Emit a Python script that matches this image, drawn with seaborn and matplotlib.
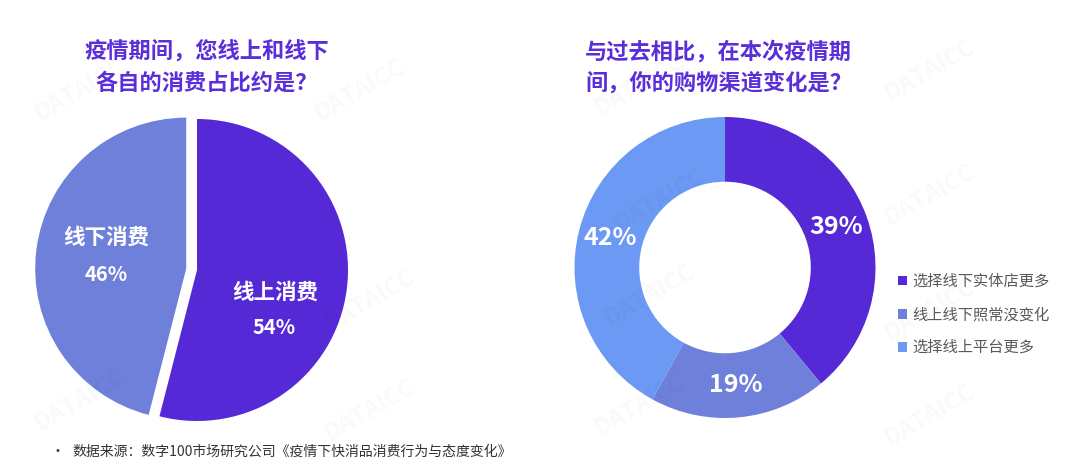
import matplotlib
matplotlib.use("Agg")
import matplotlib.pyplot as plt
import seaborn as sns
import numpy as np

# ---------------- data ----------------
left_title = ["疫情期间，您线上和线下", "各自的消费占比约是？"]
left_labels = ["线上消费", "线下消费"]
left_values = [54, 46]

right_title = ["与过去相比，在本次疫情期", "间，你的购物渠道变化是？"]
right_labels = ["选择线下实体店更多", "线上线下照常没变化", "选择线上平台更多"]
right_values = [39, 19, 42]

source_text = "数据来源：数字100市场研究公司《疫情下快消品消费行为与态度变化》"

# ---------------- style ----------------
sns.set_theme(style="white")
plt.rcParams["font.family"] = ["Noto Sans CJK SC", "DejaVu Sans"]

c_dark = "#5629D6"
c_mid = "#6E80D9"
c_light = "#6B99F3"
title_color = "#5A2ED8"
left_colors = sns.color_palette([c_dark, c_mid])
right_colors = sns.color_palette([c_dark, c_mid, c_light])

W, H = 1080, 471
LIM = 1.2
fig = plt.figure(figsize=(W / 100, H / 100), dpi=100)
fig.patch.set_facecolor("white")


def px_axes(cx, cy, r):
    half = r * LIM
    ax = fig.add_axes([(cx - half) / W, (H - cy - half) / H, 2 * half / W, 2 * half / H])
    return ax


def fix_limits(ax):
    ax.set_xlim(-LIM, LIM)
    ax.set_ylim(-LIM, LIM)
    ax.set_aspect("auto")
    ax.axis("off")


# faint watermarks
wm_pos = [(80, 90), (360, 90), (640, 85), (930, 70), (930, 195), (660, 200),
          (370, 300), (650, 295), (930, 310), (80, 400), (370, 410), (640, 405), (930, 415)]
for (x, y) in wm_pos:
    fig.text(x / W, 1 - y / H, "DATAICC", rotation=30, fontsize=17, color="#000000",
             alpha=0.022, ha="center", va="center", fontweight="bold", zorder=0)

# ---------------- left pie ----------------
ax1 = px_axes(197, 270, 151)
ax1.pie(left_values, colors=left_colors, startangle=90, counterclock=False,
        explode=[0, 0.072], radius=1, wedgeprops=dict(linewidth=0))
fix_limits(ax1)
ax1.text(0.52, -0.15, left_labels[0], color="white", fontsize=15.5, fontweight="bold",
         ha="center", va="center")
ax1.text(0.51, -0.38, f"{left_values[0]}%", color="white", fontsize=14.5, fontweight="bold",
         ha="center", va="center")
ax1.text(-0.60, 0.22, left_labels[1], color="white", fontsize=15.5, fontweight="bold",
         ha="center", va="center")
ax1.text(-0.60, -0.03, f"{left_values[1]}%", color="white", fontsize=14.5, fontweight="bold",
         ha="center", va="center")

# ---------------- right donut ----------------
ax2 = px_axes(725, 267.5, 150.5)
wedges, _, autotexts = ax2.pie(
    right_values, colors=right_colors, startangle=90, counterclock=False, radius=1,
    autopct=lambda p: f"{p:.0f}%", pctdistance=0.785,
    wedgeprops=dict(width=0.43, linewidth=0),
    textprops=dict(color="white", fontsize=18, fontweight="bold"))
fix_limits(ax2)

leg = fig.legend(wedges, right_labels, loc="upper left",
                 bbox_to_anchor=(898 / W, 1 - 273 / H), frameon=False,
                 fontsize=11, labelspacing=1.05, handlelength=0.6, handleheight=0.6,
                 handletextpad=0.35, borderpad=0, borderaxespad=0)
for t in leg.get_texts():
    t.set_color("#595959")

# ---------------- titles ----------------
for i, line in enumerate(left_title):
    fig.text(207 / W, 1 - (52 + 31 * i) / H, line, color=title_color, fontsize=16,
             fontweight="bold", ha="center", va="center")
for i, line in enumerate(right_title):
    fig.text(585 / W, 1 - (52 + 31 * i) / H, line, color=title_color, fontsize=16,
             fontweight="bold", ha="left", va="center")

# ---------------- source ----------------
fig.text(57 / W, 1 - 452 / H, "•", color="#333333", fontsize=10, ha="center", va="center")
fig.text(72 / W, 1 - 452 / H, source_text, color="#333333", fontsize=10, ha="left", va="center")

fig.savefig("out.png", dpi=100, facecolor="white")
